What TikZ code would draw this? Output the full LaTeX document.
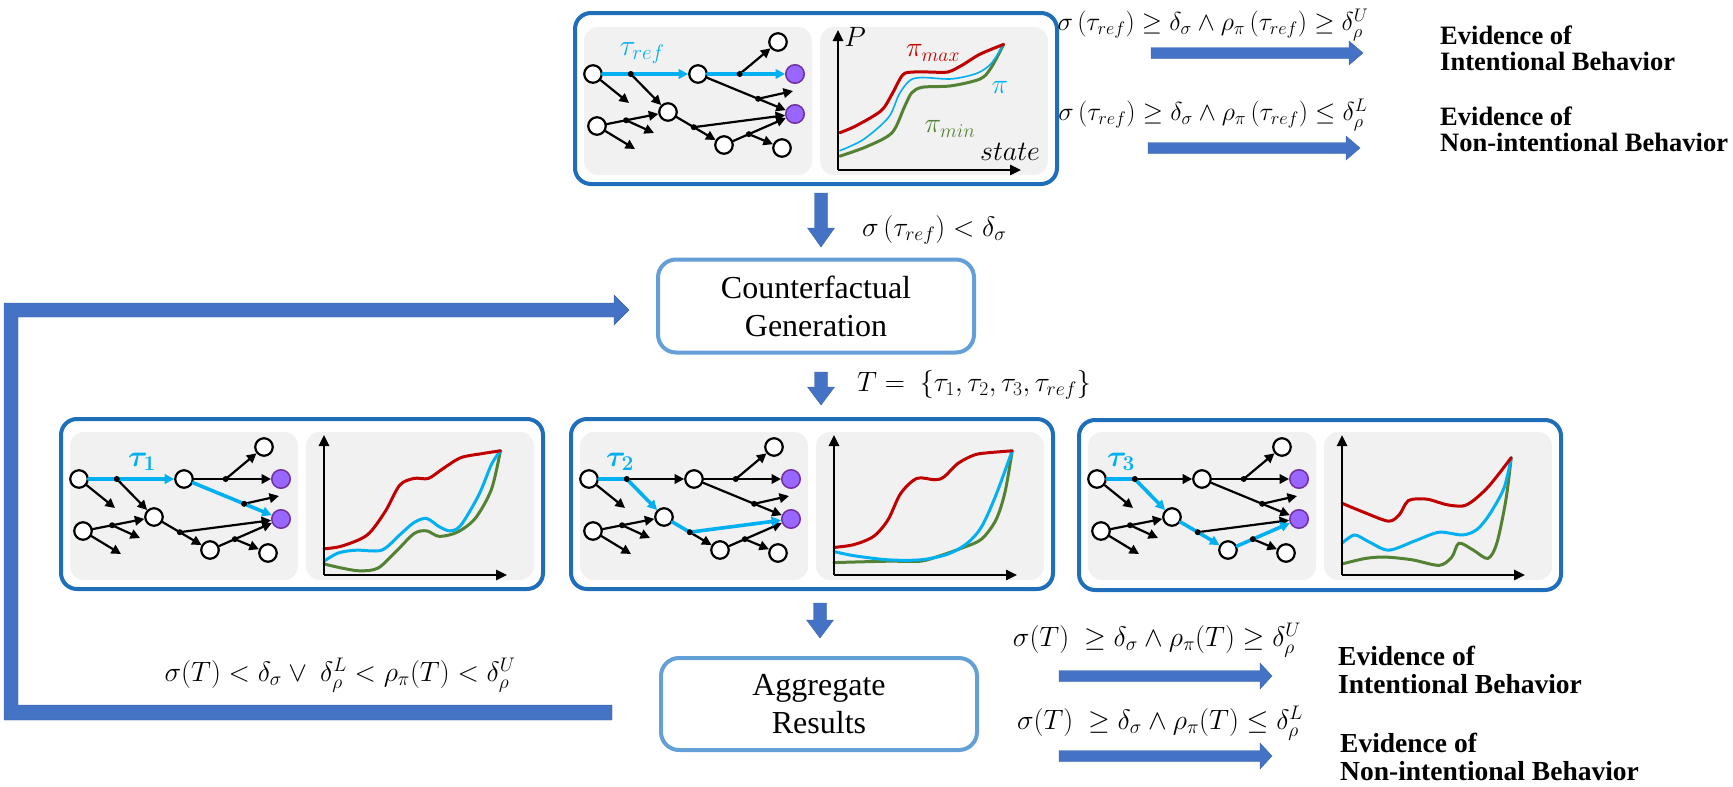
\RequirePackage{fix-cm}
\documentclass[tikz,border=0pt]{standalone}
\usepackage{bm}
\usepackage{fontspec}
\setmainfont{Liberation Serif}
\usetikzlibrary{arrows.meta,calc}
\definecolor{boxblue}{RGB}{30,110,185}
\definecolor{lightblue}{RGB}{100,160,215}
\definecolor{blockblue}{RGB}{68,114,196}
\definecolor{panelgray}{RGB}{241,241,241}
\definecolor{cyanc}{RGB}{0,176,240}
\definecolor{redc}{RGB}{192,0,0}
\definecolor{greenc}{RGB}{84,130,53}
\definecolor{purplef}{RGB}{153,102,255}
\definecolor{purpled}{RGB}{112,48,160}
\tikzset{
 e1/.style={}, e2/.style={}, e3/.style={}, e9/.style={}, e10/.style={}, e11/.style={},
 e12/.style={}, e13/.style={}, e15/.style={}, e16/.style={}, e18/.style={}, e19/.style={},
 hide/.style={draw=none},
 ed/.style={draw=black,line width=2.2pt,line cap=round},
 ar/.style={-{Triangle[length=9.5pt,width=9.5pt]}},
 hl/.style={draw=cyanc,line width=3.6pt,line cap=round,line join=round},
 wn/.style={circle,draw=black,line width=2.2pt,fill=white,minimum size=17.5pt,inner sep=0pt},
 pn/.style={circle,draw=purpled,line width=1.5pt,fill=purplef,minimum size=18.5pt,inner sep=0pt},
 taulab/.style={text=cyanc,font=\fontsize{30}{32}\selectfont,inner sep=0pt},
 outerpanel/.style={draw=boxblue,line width=4pt,rounded corners=16pt,fill=white,minimum width=482pt,inner sep=0pt},
 procbox/.style={draw=lightblue,line width=4pt,rounded corners=18pt,minimum width=316pt,minimum height=93pt,align=center,font=\fontsize{32}{38}\selectfont},
 mathf/.style={font=\fontsize{28}{32}\selectfont,inner sep=0pt},
 maths/.style={font=\fontsize{26}{30}\selectfont,inner sep=0pt},
 chartlab/.style={font=\fontsize{28}{32}\selectfont,inner sep=0pt},
 evid/.style={font=\fontsize{26.5}{26}\selectfont\bfseries,align=left,inner sep=0pt,anchor=west},
 evidb/.style={font=\fontsize{27.5}{28}\selectfont\bfseries,align=left,inner sep=0pt,anchor=west},
 axis/.style={draw=black,line width=2.5pt,-{Triangle[length=11pt,width=10pt]}},
 crv/.style={line width=3pt,line cap=round},
 cyw/.style={line width=3pt},
 blockarrow/.style={fill=blockblue,draw=blockblue!85!black,line width=0.4pt}
}
% trajectory graph: #1 prefix, #2 #3 top-left, #4 label, #5 #6 label pos, #7 hidden edges, #8 highlighted path
\newcommand{\trajgraph}[8]{%
\begin{scope}[shift={(#2,#3)},#7]
 \fill[panelgray,rounded corners=14pt] (0,0) rectangle (228,148);
 \node[wn] (#1A) at (9,47) {};
 \node[wn] (#1B) at (13,99) {};
 \node[wn] (#1C) at (84,85) {};
 \node[wn] (#1D) at (114,47) {};
 \node[wn] (#1E) at (140,118) {};
 \node[wn] (#1F) at (194,15) {};
 \node[pn] (#1G) at (211,47) {};
 \node[pn] (#1H) at (211,87) {};
 \node[wn] (#1I) at (198,121) {};
 \coordinate (#1d1) at ($(#1A)!0.36!(#1D)$);
 \coordinate (#1dBC) at ($(#1B)!0.41!(#1C)$);
 \coordinate (#1dCE) at ($(#1C)!0.46!(#1E)$);
 \coordinate (#1dDG) at ($(#1D)!0.43!(#1G)$);
 \coordinate (#1dDH) at ($(#1D)!0.62!(#1H)$);
 \coordinate (#1dEH) at ($(#1E)!0.35!(#1H)$);
 \coordinate (#1fA) at (45,76);
 \coordinate (#1fBC) at (70,106);
 \coordinate (#1fB) at (51,122);
 \coordinate (#1fDH) at (209,64);
 \draw[ed,e1] (#1A) -- (#1d1);
 \draw[ed,ar,e2] (#1d1) -- (#1D);
 \draw[ed,ar,e3] (#1d1) -- (#1C);
 \draw[ed,ar] (#1A) -- (#1fA);
 \draw[ed] (#1B) -- (#1dBC);
 \draw[ed,ar] (#1dBC) -- (#1C);
 \draw[ed,ar] (#1dBC) -- (#1fBC);
 \draw[ed,ar] (#1B) -- (#1fB);
 \draw[ed,e9] (#1C) -- (#1dCE);
 \draw[ed,ar,e10] (#1dCE) -- (#1E);
 \draw[ed,ar,e11] (#1dCE) -- (#1H);
 \draw[ed,e12] (#1D) -- (#1dDG);
 \draw[ed,ar,e13] (#1dDG) -- (#1G);
 \draw[ed,ar] (#1dDG) -- (#1F);
 \draw[ed,e15] (#1D) -- (#1dDH);
 \draw[ed,ar,e16] (#1dDH) -- (#1H);
 \draw[ed,ar] (#1dDH) -- (#1fDH);
 \draw[ed,e18] (#1E) -- (#1dEH);
 \draw[ed,ar,e19] (#1dEH) -- (#1H);
 \draw[ed,ar] (#1dEH) -- (#1I);
 #8
 \foreach \dd in {d1,dBC,dCE,dDG,dDH,dEH} \fill (#1\dd) circle[radius=3pt];
 \node[taulab] (#1lab) at (#5,#6) {#4};
\end{scope}}
% chart: #1 prefix, #2 #3 top-left, #4 red, #5 cyan, #6 green
\newcommand{\trajchart}[6]{%
\begin{scope}[shift={(#2,#3)}]
 \fill[panelgray,rounded corners=14pt] (0,0) rectangle (228,148);
 \coordinate (#1o) at (18,143);
 \coordinate (#1yt) at (18,3);
 \coordinate (#1xt) at (201,143);
 \begin{scope}[shift={(18,143)},x=180pt,y=138pt]
  \draw[crv,greenc] plot[smooth] coordinates {#6};
  \draw[crv,cyw,cyanc] plot[smooth] coordinates {#5};
  \draw[crv,redc] plot[smooth] coordinates {#4};
 \end{scope}
 \draw[axis] (#1o) -- (#1yt);
 \draw[axis] (#1o) -- (#1xt);
\end{scope}}
\newcommand{\bdown}[4]{\fill[blockarrow] ({#1-6.5},#2) -- ({#1+6.5},#2) -- ({#1+6.5},#3) -- ({#1+13.5},#3) -- (#1,#4) -- ({#1-13.5},#3) -- ({#1-6.5},#3) -- cycle;}
\newcommand{\bright}[5]{\fill[blockarrow] (#1,{#4-5.5}) -- (#2,{#4-5.5}) -- (#2,{#4-#5}) -- (#3,#4) -- (#2,{#4+#5}) -- (#2,{#4+5.5}) -- (#1,{#4+5.5}) -- cycle;}

\begin{document}
\begin{tikzpicture}[x=1pt,y=-1pt]
\useasboundingbox (0,0) rectangle (1733,787);

% ---------- top panel ----------
\node[outerpanel,minimum height=171pt] (topbox) at (816,98.5) {};
\trajgraph{r}{584}{27}{$\tau_{ref}$}{58}{26}{e1/.style=hide,e2/.style=hide,e12/.style=hide,e13/.style=hide}
 {\draw[hl,ar] (rA) -- (rD); \draw[hl,ar] (rD) -- (rG);}
\begin{scope}[cyw/.style={line width=1.6pt}]
\trajchart{rc}{820}{27}
 {(0.01,0.27) (0.10,0.32) (0.24,0.43) (0.30,0.55) (0.36,0.69) (0.42,0.71) (0.51,0.71) (0.61,0.71) (0.69,0.76) (0.79,0.84) (0.92,0.91)}
 {(0.01,0.14) (0.14,0.22) (0.28,0.38) (0.34,0.55) (0.40,0.65) (0.47,0.67) (0.63,0.66) (0.77,0.70) (0.85,0.77) (0.92,0.91)}
 {(0.01,0.10) (0.16,0.17) (0.30,0.27) (0.37,0.46) (0.41,0.56) (0.47,0.60) (0.63,0.61) (0.79,0.66) (0.85,0.74) (0.92,0.91)}
\end{scope}
\node[chartlab] (lP) at (855,37) {$P$};
\node[chartlab,text=redc] (lmax) at (933,53) {$\pi_{max}$};
\node[chartlab,text=cyanc] (lpi) at (1000,87) {$\pi$};
\node[chartlab,text=greenc] (lmin) at (950,129) {$\pi_{min}$};
\node[chartlab] (lstate) at (1010,152) {$state$};

% top right
\node[maths] (tf1) at (1213,25) {$\sigma\left(\tau_{ref}\right) \geq \delta_\sigma \wedge \rho_\pi\left(\tau_{ref}\right) \geq \delta_\rho^U$};
\bright{1151}{1349}{1363}{53}{12}
\node[evid] (tev1) at (1440,48) {Evidence of\\Intentional Behavior};
\node[maths] (tf2) at (1213,115) {$\sigma\left(\tau_{ref}\right) \geq \delta_\sigma \wedge \rho_\pi\left(\tau_{ref}\right) \leq \delta_\rho^L$};
\bright{1148}{1346}{1360}{148}{12}
\node[evid] (tev2) at (1440,129) {Evidence of\\Non-intentional Behavior};

% ---------- middle flow ----------
\bdown{821}{193}{228}{247}
\node[mathf,anchor=west] (cond1) at (862,230) {$\sigma\left(\tau_{ref}\right) < \delta_\sigma$};
\node[procbox] (cf) at (816,306) {Counterfactual\\Generation};
\bdown{821}{372}{387}{405}
\node[mathf,anchor=west] (tset) at (857,385) {$T =\ \{\tau_1,\tau_2,\tau_3,\tau_{ref}\}$};

% ---------- middle panels ----------
\node[outerpanel,minimum height=170pt] (p1) at (302,504) {};
\node[outerpanel,minimum height=170pt] (p2) at (812,504) {};
\node[outerpanel,minimum height=170pt] (p3) at (1320,505) {};

\trajgraph{a}{70}{432}{$\bm{\tau}_{\bm{1}}$}{72}{30}{e1/.style=hide,e2/.style=hide,e15/.style=hide,e16/.style=hide}
 {\draw[hl,ar] (aA) -- (aD); \draw[hl,ar] (aD) -- (aH);}
\trajchart{ac}{306}{432}
 {(0,0.19) (0.10,0.21) (0.24,0.29) (0.34,0.46) (0.42,0.65) (0.50,0.70) (0.58,0.70) (0.66,0.77) (0.76,0.85) (0.88,0.88) (0.98,0.90)}
 {(0,0.10) (0.08,0.16) (0.18,0.18) (0.32,0.18) (0.42,0.29) (0.50,0.38) (0.57,0.41) (0.64,0.35) (0.70,0.32) (0.76,0.36) (0.86,0.58) (0.93,0.80) (0.98,0.90)}
 {(0,0.08) (0.10,0.05) (0.20,0.03) (0.30,0.05) (0.40,0.17) (0.50,0.30) (0.57,0.32) (0.64,0.28) (0.74,0.31) (0.84,0.41) (0.93,0.62) (0.98,0.90)}

\trajgraph{b}{580}{432}{$\bm{\tau}_{\bm{2}}$}{40}{30}{e1/.style=hide,e3/.style=hide,e9/.style=hide,e11/.style=hide}
 {\draw[hl,ar] (bA) -- (bd1) -- (bC); \draw[hl,ar] (bC) -- (bdCE) -- (bH);}
\trajchart{bc}{816}{432}
 {(0,0.20) (0.11,0.22) (0.22,0.28) (0.30,0.40) (0.37,0.59) (0.46,0.70) (0.56,0.69) (0.61,0.71) (0.69,0.81) (0.78,0.87) (0.85,0.885) (0.99,0.90)}
 {(0,0.17) (0.11,0.14) (0.30,0.11) (0.48,0.11) (0.63,0.15) (0.74,0.23) (0.82,0.35) (0.90,0.58) (0.99,0.90)}
 {(0,0.09) (0.30,0.10) (0.48,0.10) (0.59,0.14) (0.72,0.20) (0.82,0.26) (0.90,0.40) (0.95,0.60) (0.99,0.90)}

\trajgraph{c}{1088}{432}{$\bm{\tau}_{\bm{3}}$}{33}{30}{e1/.style=hide,e3/.style=hide,e9/.style=hide,e10/.style=hide,e18/.style=hide,e19/.style=hide}
 {\draw[hl,ar] (cA) -- (cd1) -- (cC); \draw[hl,ar] (cC) -- (cE); \draw[hl,ar] (cE) -- (cH);}
\trajchart{cc}{1324}{432}
 {(0,0.52) (0.13,0.45) (0.26,0.39) (0.32,0.44) (0.37,0.54) (0.47,0.55) (0.58,0.51) (0.67,0.50) (0.73,0.54) (0.82,0.65) (0.94,0.85)}
 {(0,0.23) (0.07,0.29) (0.15,0.24) (0.26,0.18) (0.41,0.25) (0.54,0.31) (0.67,0.29) (0.75,0.33) (0.82,0.44) (0.90,0.63) (0.94,0.85)}
 {(0,0.08) (0.13,0.12) (0.24,0.13) (0.39,0.11) (0.54,0.07) (0.61,0.13) (0.65,0.23) (0.73,0.18) (0.81,0.12) (0.86,0.23) (0.91,0.54) (0.94,0.85)}

% ---------- bottom ----------
\bdown{820}{603}{620}{638}
\node[procbox,minimum height=92pt] (agg) at (819,704) {Aggregate\\Results};

\node[mathf] (bf1) at (1157,640) {$\sigma(T)\ \geq \delta_\sigma \wedge \rho_\pi(T) \geq \delta_\rho^U$};
\bright{1059}{1260}{1272}{676}{13}
\node[evidb] (bev1) at (1338,670) {Evidence of\\Intentional Behavior};
\node[mathf] (bf2) at (1160,723) {$\sigma(T)\ \geq \delta_\sigma \wedge \rho_\pi(T) \leq \delta_\rho^L$};
\bright{1059}{1260}{1272}{756}{13}
\node[evidb] (bev2) at (1340,757) {Evidence of\\Non-intentional Behavior};

% feedback loop
\fill[blockarrow] (612,705) -- (18,705) -- (18,317) -- (614,317) -- (614,325) -- (629,310) -- (614,295) -- (614,303) -- (4,303) -- (4,720) -- (612,720) -- cycle;
\node[mathf] (fbc) at (340,675) {$\sigma(T) < \delta_\sigma \vee\ \delta_\rho^L < \rho_\pi(T) < \delta_\rho^U$};
\end{tikzpicture}
\end{document}
